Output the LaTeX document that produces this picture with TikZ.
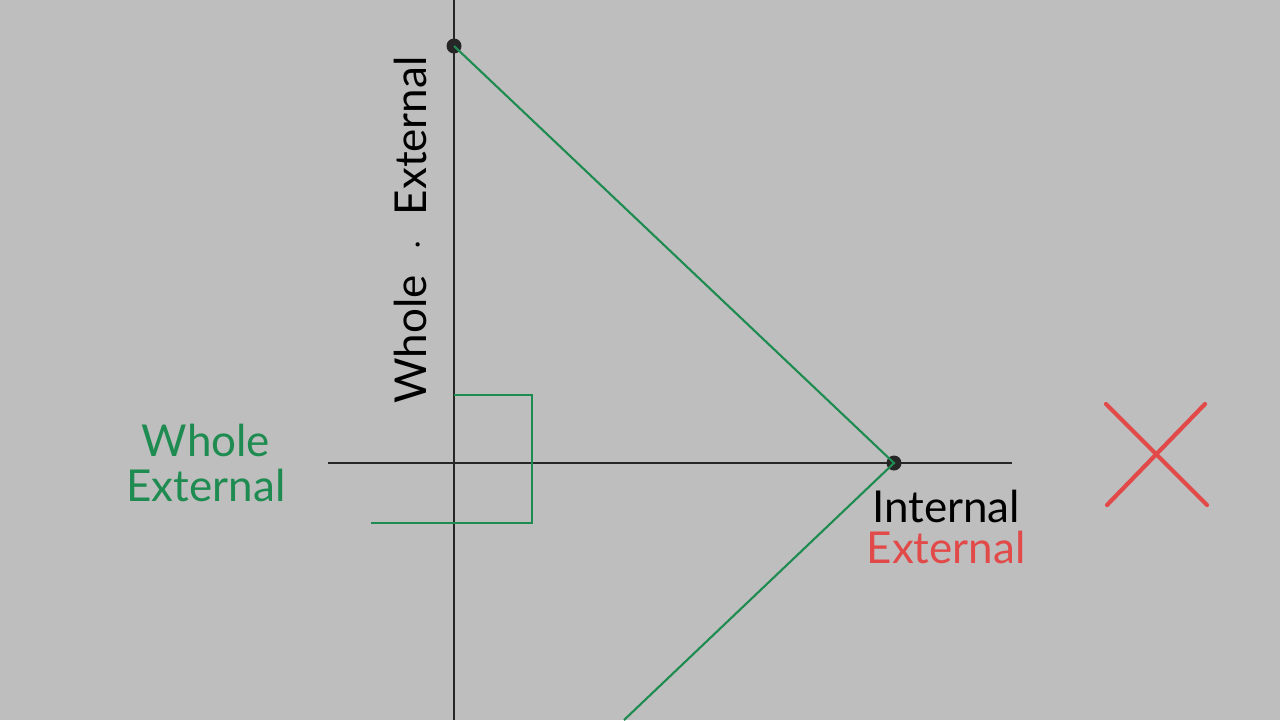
\documentclass[tikz,border=0pt]{standalone}
\usepackage{fontspec}
\setmainfont{Lato}
\usetikzlibrary{positioning}
\definecolor{bggray}{HTML}{BEBEBE}
\definecolor{axisgray}{HTML}{262626}
\definecolor{linegreen}{HTML}{1E8C50}
\definecolor{crossred}{HTML}{E24A4A}

\begin{document}
\begin{tikzpicture}[
 x=0.01cm, y=-0.01cm,
 axis/.style={draw=axisgray, line width=0.45pt},
 edge/.style={draw=linegreen, line width=0.6pt},
 dot/.style={circle, fill=axisgray, inner sep=0pt, minimum size=0.15cm},
 lbl/.style={font=\fontsize{12.5}{13}\selectfont, inner sep=0pt},
 cross/.style={draw=crossred, line width=1.2pt, line cap=round},
 ]
 \fill[bggray] (0,0) rectangle (1280,720);
 \useasboundingbox (0,0) rectangle (1280,720);

 % axes
 \coordinate (ytop) at (454,0);
 \coordinate (ybot) at (454,720);
 \coordinate (xleft) at (328,463);
 \coordinate (xright) at (1012,463);
 \draw[axis] (ytop) -- (ybot);
 \draw[axis] (xleft) -- (xright);

 \node[dot] (apex) at (454,46) {};
 \node[dot] (meet) at (894,463) {};
 \coordinate (tail) at (624,720);
 \draw[edge] (apex.center) -- (meet.center) -- (tail);

 % bracket
 \coordinate (brtop) at (454,395);
 \coordinate (brcorner) at (532,523);
 \coordinate (brend) at (371,523);
 \draw[edge] (brtop) -| (brcorner) -- (brend);

 \node[lbl, rotate=90] (axislabel) at (410,230)
 {Whole\hspace{0.6em}{\footnotesize·}\hspace{0.6em}External};
 \node[lbl, text=linegreen, align=center] (wholeext) at (206,463)
 {Whole\\External};
 \node[lbl, align=center, below=0.18cm of meet, xshift=0.52cm] (intext)
 {Internal\\[-1.4pt]\textcolor{crossred}{External}};

 % red cross
 \coordinate (crossnw) at (1106,404);
 \coordinate (crossse) at (1207,505);
 \coordinate (crossne) at (1205,404);
 \coordinate (crosssw) at (1107,505);
 \draw[cross] (crossnw) -- (crossse);
 \draw[cross] (crossne) -- (crosssw);
\end{tikzpicture}
\end{document}
